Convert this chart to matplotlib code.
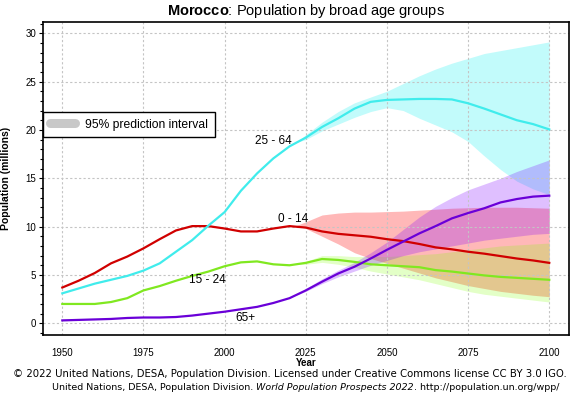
import numpy as np
import matplotlib
matplotlib.use("Agg")
import matplotlib.pyplot as plt
from matplotlib.lines import Line2D
from matplotlib.ticker import MultipleLocator

plt.rcParams['font.family'] = ['Liberation Sans', 'DejaVu Sans']
plt.rcParams['mathtext.fontset'] = 'custom'
plt.rcParams['mathtext.rm'] = 'Liberation Sans'
plt.rcParams['mathtext.bf'] = 'Liberation Sans:bold'

# --- data (millions) ---
years = list(range(1950, 2101, 5))
age_0_14 = [3.7, 4.4, 5.2, 6.2, 6.9, 7.75, 8.7, 9.6, 10.05, 10.05, 9.8, 9.5, 9.5, 9.8, 10.05,
            9.9, 9.5, 9.25, 9.1, 8.95, 8.7, 8.5, 8.2, 7.85, 7.65, 7.4, 7.2, 6.95, 6.7, 6.5, 6.25]
age_15_24 = [2.0, 2.0, 2.0, 2.2, 2.6, 3.4, 3.85, 4.4, 4.9, 5.35, 5.9, 6.3, 6.4, 6.1, 6.0,
             6.25, 6.65, 6.55, 6.35, 6.1, 6.0, 5.9, 5.8, 5.5, 5.35, 5.15, 4.95, 4.8, 4.7, 4.6, 4.5]
age_25_64 = [3.1, 3.6, 4.1, 4.5, 4.9, 5.45, 6.2, 7.4, 8.6, 10.1, 11.5, 13.7, 15.5, 17.05, 18.3,
             19.2, 20.3, 21.2, 22.2, 22.9, 23.1, 23.15, 23.2, 23.2, 23.15, 22.75, 22.2, 21.6, 21.0, 20.6, 20.05]
age_65p = [0.3, 0.35, 0.4, 0.45, 0.55, 0.6, 0.6, 0.65, 0.8, 1.0, 1.2, 1.45, 1.7, 2.1, 2.6,
           3.4, 4.3, 5.15, 5.85, 6.7, 7.6, 8.45, 9.3, 10.05, 10.85, 11.4, 11.9, 12.5, 12.85, 13.1, 13.2]

# 95% prediction intervals
pi_years = [2022, 2025, 2030, 2035, 2040, 2045, 2050, 2055, 2060, 2065, 2070, 2075, 2080, 2085, 2090, 2095, 2100]
lo_0_14 = [10.1, 9.8, 9.0, 8.2, 7.3, 6.7, 6.2, 5.7, 5.2, 4.7, 4.3, 3.9, 3.6, 3.3, 3.1, 2.9, 2.75]
hi_0_14 = [10.1, 10.5, 11.2, 11.4, 11.5, 11.5, 11.55, 11.6, 11.7, 11.8, 11.9, 11.95, 12.0, 12.0, 12.0, 11.95, 11.9]
lo_15_24 = [6.1, 6.1, 6.3, 6.1, 5.8, 5.4, 5.1, 4.8, 4.5, 4.1, 3.7, 3.3, 3.0, 2.8, 2.6, 2.4, 2.2]
hi_15_24 = [6.1, 6.4, 7.0, 7.0, 6.9, 6.9, 6.9, 7.0, 7.1, 7.2, 7.4, 7.6, 7.8, 8.0, 8.1, 8.2, 8.3]
lo_25_64 = [18.7, 19.0, 19.9, 20.6, 21.3, 21.9, 22.3, 22.0, 21.2, 20.5, 19.8, 18.8, 17.3, 15.9, 14.7, 13.9, 13.3]
hi_25_64 = [18.7, 19.5, 20.8, 21.9, 22.8, 23.4, 24.0, 24.8, 25.6, 26.3, 26.9, 27.4, 27.9, 28.2, 28.5, 28.8, 29.1]
lo_65p = [2.9, 3.3, 4.1, 4.8, 5.4, 6.0, 6.5, 7.0, 7.4, 7.7, 8.0, 8.3, 8.6, 8.8, 9.0, 9.2, 9.3]
hi_65p = [2.9, 3.6, 4.6, 5.5, 6.3, 7.3, 8.4, 9.7, 11.0, 12.1, 13.0, 13.8, 14.4, 15.0, 15.7, 16.3, 16.9]

series = [
    ("0 - 14", age_0_14, lo_0_14, hi_0_14, '#d00000', '#ff0000', 0.28),
    ("15 - 24", age_15_24, lo_15_24, hi_15_24, '#80e820', '#80ff00', 0.22),
    ("25 - 64", age_25_64, lo_25_64, hi_25_64, '#40ecec', '#00f0f0', 0.24),
    ("65+", age_65p, lo_65p, hi_65p, '#6a00d8', '#8000ff', 0.25),
]
label_pos = {"25 - 64": (2014.9, 18.85), "0 - 14": (2021.0, 10.8),
             "15 - 24": (1994.6, 4.5), "65+": (2006.3, 0.55)}

fig = plt.figure(figsize=(5.8, 4.0), dpi=100)
ax = fig.add_axes([0.0747, 0.1625, 0.907, 0.7833])

for name, vals, lo, hi, lc, fc, a in series:
    ax.fill_between(pi_years, lo, hi, color=fc, alpha=a, linewidth=0)
for name, vals, lo, hi, lc, fc, a in series:
    ax.plot(years, vals, color=lc, lw=1.6)
    x, y = label_pos[name]
    ax.text(x, y, name, fontsize=8.5, ha='center', va='center')

ax.set_xlim(1944.15, 2106.2)
ax.set_ylim(-1.21, 31.19)
ax.set_xticks([1950, 1975, 2000, 2025, 2050, 2075, 2100])
ax.yaxis.set_major_locator(MultipleLocator(5))
ax.yaxis.set_minor_locator(MultipleLocator(1))
ax.tick_params(axis='x', length=0, pad=9, labelsize=7)
ax.tick_params(axis='y', which='major', length=3, width=0.8, pad=2, labelsize=7)
ax.tick_params(axis='y', which='minor', length=2.5, width=0.8)
ax.grid(True, which='major', color='#c4c4c4', linestyle=(0, (2, 2)), linewidth=0.8)
for s in ax.spines.values():
    s.set_linewidth(1.2)

ax.set_xlabel("Year", fontsize=7, fontweight='bold', labelpad=0)
ax.set_ylabel("Population (millions)", fontsize=7.5, fontweight='bold', va='center')
ax.yaxis.set_label_coords(-0.071, 0.5)

handle = Line2D([0], [0], color='#c8c8c8', lw=6.5, solid_capstyle='round')
leg = ax.legend([handle], ["95% prediction interval"], loc='upper left',
                bbox_to_anchor=(0.0, 0.712), borderaxespad=0, fontsize=8.7,
                fancybox=False, edgecolor='black', framealpha=1,
                handlelength=2.1, borderpad=0.55)
leg.get_frame().set_linewidth(1.0)

fig.text(0.527, 0.972, r"$\mathbf{Morocco}$: Population by broad age groups",
         ha='center', va='center', fontsize=10.5)
fig.text(0.5, 0.066, "\u00a9 2022 United Nations, DESA, Population Division. "
         "Licensed under Creative Commons license CC BY 3.0 IGO.",
         ha='center', va='center', fontsize=7.3, family='DejaVu Sans')

# second footer line: normal / italic / normal pieces laid side by side
parts = [("United Nations, DESA, Population Division. ", 'normal'),
         ("World Population Prospects 2022", 'italic'),
         (". http://population.un.org/wpp/", 'normal')]
renderer = fig.canvas.get_renderer()
texts = [fig.text(0, 0.031, t, fontsize=6.8, family='DejaVu Sans', style=st,
                  ha='left', va='center') for t, st in parts]
widths = [t.get_window_extent(renderer).width / fig.bbox.width for t in texts]
x0 = 0.527 - sum(widths) / 2
for t, w in zip(texts, widths):
    t.set_x(x0)
    x0 += w

fig.savefig("out.png", dpi=100)
